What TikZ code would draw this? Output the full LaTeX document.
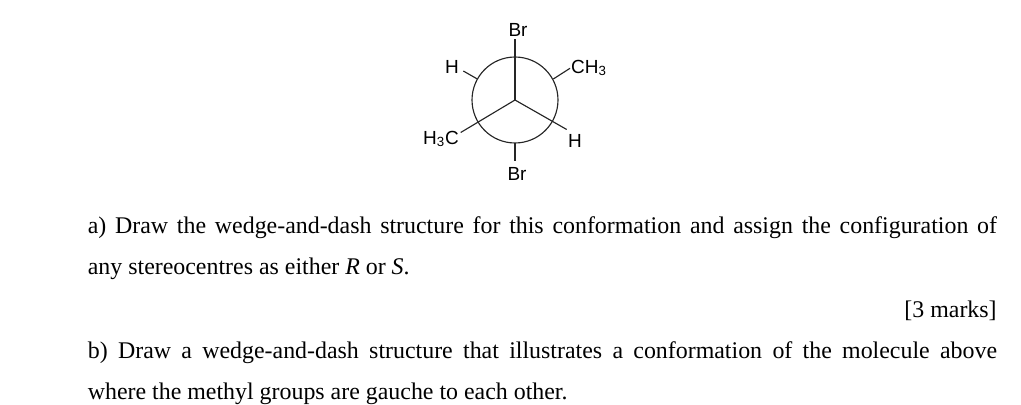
\documentclass[tikz,border=0pt]{standalone}
\usepackage{fontspec}
\setmainfont{Liberation Serif}
\newfontfamily\labelfont{Liberation Sans}
\tikzset{
	atom/.style={font=\labelfont\fontsize{10.8}{12}\selectfont, inner sep=0pt},
	para/.style={font=\fontsize{13.6}{23.6}\selectfont, inner sep=0pt, anchor=north west, text width=517.5pt, align=justify},
	bond/.style={line width=0.65pt, black!85},
}
\begin{document}
\begin{tikzpicture}[x=0.02cm, y=-0.02cm]
	\useasboundingbox (0,0) rectangle (1021,405);
	\coordinate (centre) at (515,100);
	\node[bond, draw, circle, minimum size=1.72cm, inner sep=0pt] (ring) at (centre) {};
	\node[atom] (brtop) at (518,30) {Br};
	\node[atom] (hleft) at (452,67) {H};
	\node[atom] (methylright) at (589,68) {CH\textsubscript{3}};
	\node[atom] (methylleft) at (441,139) {H\textsubscript{3}C};
	\node[atom] (hright) at (575,141) {H};
	\node[atom] (brbottom) at (517,174) {Br};
	\coordinate (a) at (515,39.5);
	\coordinate (b) at (463.3,71);
	\coordinate (c) at (477.3,79);
	\coordinate (d) at (570,68.3);
	\coordinate (e) at (553.3,79);
	\coordinate (f) at (460.7,132.5);
	\coordinate (g) at (566.7,129.5);
	\coordinate (h) at (515,143);
	\coordinate (i) at (515,161.5);
	\draw[bond] (a)--(centre);
	\draw[bond] (b)--(c);
	\draw[bond] (d)--(e);
	\draw[bond] (f)--(centre);
	\draw[bond] (g)--(centre);
	\draw[bond] (h)--(i);
	\node[para] (parta) at (87.5,216) {a) Draw the wedge-and-dash structure for this conformation and assign the configuration of\linebreak any stereocentres as either \textit{R} or \textit{S}.};
	\node[para, text width=, anchor=east, align=right] (marks) at (997,311) {[3 marks]};
	\node[para] (partb) at (87.5,341) {b) Draw a wedge-and-dash structure that illustrates a conformation of the molecule above\linebreak where the methyl groups are gauche to each other.};
\end{tikzpicture}
\end{document}
